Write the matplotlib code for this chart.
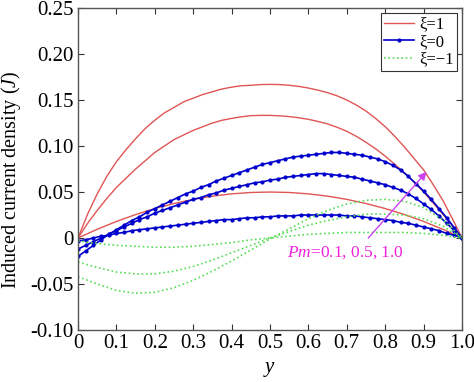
import matplotlib
matplotlib.use("Agg")
import matplotlib.pyplot as plt

plt.rcParams['font.family'] = ['Liberation Serif', 'DejaVu Serif']
plt.rcParams['mathtext.fontset'] = 'custom'
plt.rcParams['mathtext.it'] = 'Liberation Serif:italic'
plt.rcParams['mathtext.rm'] = 'Liberation Serif'

# x grids
y_coarse = [0.00, 0.05, 0.10, 0.15, 0.20, 0.25, 0.30, 0.35, 0.40, 0.45, 0.50,
            0.55, 0.60, 0.65, 0.70, 0.75, 0.80, 0.85, 0.90, 0.95, 1.00]
y_mid = [round(0.025 * i, 3) for i in range(41)]
y_fine = [round(0.02 * i, 2) for i in range(51)]

# xi = 1 (red, solid)
red_high = [0.000, 0.026, 0.048, 0.067, 0.083, 0.096, 0.108, 0.119, 0.128, 0.136,
            0.142, 0.148, 0.152, 0.156, 0.159, 0.162, 0.164, 0.1655, 0.166, 0.1668,
            0.167, 0.1668, 0.166, 0.1648, 0.163, 0.1607, 0.158, 0.1545, 0.150, 0.1445,
            0.138, 0.130, 0.121, 0.1105, 0.099, 0.0865, 0.074, 0.058, 0.041, 0.021, 0.000]
red_mid = [0.000, 0.016, 0.030, 0.043, 0.055, 0.065, 0.075, 0.084, 0.093, 0.100,
           0.107, 0.112, 0.117, 0.121, 0.125, 0.128, 0.130, 0.1317, 0.133, 0.1333,
           0.1333, 0.1328, 0.132, 0.1307, 0.129, 0.1267, 0.124, 0.1203, 0.116, 0.1105,
           0.104, 0.097, 0.089, 0.080, 0.071, 0.061, 0.050, 0.038, 0.026, 0.013, 0.000]
red_low = [0.000, 0.0095, 0.018, 0.0255, 0.032, 0.0375, 0.042, 0.0455, 0.048, 0.0495, 0.050,
           0.0495, 0.048, 0.0455, 0.042, 0.0375, 0.032, 0.0255, 0.018, 0.0095, 0.000]

# xi = 0 (blue, dots)
blue_high = [-0.020, -0.014, -0.008, -0.002, 0.004, 0.009, 0.014, 0.019, 0.023, 0.028,
             0.032, 0.036, 0.040, 0.044, 0.048, 0.051, 0.055, 0.058, 0.062, 0.065,
             0.068, 0.071, 0.074, 0.077, 0.080, 0.082, 0.084, 0.086, 0.088, 0.089,
             0.090, 0.091, 0.092, 0.093, 0.093, 0.092, 0.091, 0.090, 0.088, 0.086,
             0.083, 0.079, 0.074, 0.067, 0.059, 0.051, 0.042, 0.032, 0.022, 0.011, 0.000]
blue_mid = [-0.012, -0.008, -0.004, 0.000, 0.004, 0.008, 0.012, 0.016, 0.020, 0.023,
            0.027, 0.030, 0.033, 0.036, 0.039, 0.042, 0.044, 0.047, 0.049, 0.052,
            0.054, 0.056, 0.058, 0.060, 0.061, 0.063, 0.064, 0.066, 0.067, 0.068,
            0.069, 0.070, 0.070, 0.069, 0.068, 0.067, 0.066, 0.064, 0.062, 0.060,
            0.058, 0.055, 0.052, 0.048, 0.043, 0.037, 0.031, 0.024, 0.016, 0.008, 0.000]
blue_low = [-0.003, -0.002, 0.000, 0.002, 0.003, 0.005, 0.006, 0.008, 0.009, 0.010,
            0.011, 0.012, 0.013, 0.014, 0.015, 0.016, 0.017, 0.018, 0.019, 0.020,
            0.020, 0.021, 0.022, 0.022, 0.023, 0.023, 0.024, 0.024, 0.024, 0.025,
            0.025, 0.025, 0.025, 0.025, 0.025, 0.024, 0.024, 0.023, 0.022, 0.021,
            0.020, 0.019, 0.017, 0.016, 0.014, 0.012, 0.010, 0.008, 0.005, 0.003, 0.000]

# xi = -1 (green, dotted)
green_high = [-0.042, -0.050, -0.057, -0.060, -0.059, -0.054, -0.046, -0.036, -0.025, -0.013, -0.001,
              0.010, 0.021, 0.030, 0.037, 0.041, 0.042, 0.040, 0.033, 0.020, 0.000]
green_mid = [-0.026, -0.032, -0.037, -0.039, -0.039, -0.036, -0.031, -0.024, -0.016, -0.008, 0.000,
             0.007, 0.014, 0.019, 0.023, 0.026, 0.026, 0.025, 0.021, 0.013, 0.000]
green_low = [-0.003, -0.006, -0.008, -0.009, -0.010, -0.010, -0.009, -0.007, -0.005, -0.002, 0.000,
             0.002, 0.004, 0.005, 0.006, 0.006, 0.006, 0.006, 0.005, 0.003, 0.000]

xticks = [0, 0.1, 0.2, 0.3, 0.4, 0.5, 0.6, 0.7, 0.8, 0.9, 1.0]
xticklabels = ['0', '0.1', '0.2', '0.3', '0.4', '0.5', '0.6', '0.7', '0.8', '0.9', '1.0']
yticks = [-0.10, -0.05, 0, 0.05, 0.10, 0.15, 0.20, 0.25]
yticklabels = ['-0.10', '-0.05', '0', '0.05', '0.10', '0.15', '0.20', '0.25']

fig = plt.figure(figsize=(4.74, 3.82), dpi=100)
ax = fig.add_axes([0.1646, 0.1361, 0.8101, 0.8429])

red_c = '#e05555'
blue_c = '#0000cc'
green_c = '#55dd55'

ax.plot(y_mid, red_high, color=red_c, lw=1.0, label='ξ=1')
ax.plot(y_mid, red_mid, color=red_c, lw=1.0)
ax.plot(y_coarse, red_low, color=red_c, lw=1.0)
for i, s in enumerate([blue_high, blue_mid, blue_low]):
    ax.plot(y_fine, s, color=blue_c, lw=1.2, marker='.', ms=4, label='ξ=0' if i == 0 else None)
for i, s in enumerate([green_high, green_mid, green_low]):
    ax.plot(y_coarse, s, color=green_c, lw=1.2, ls=(0, (1, 1.6)), label='ξ=−1' if i == 0 else None)

ax.annotate('', xy=(0.908, 0.072), xytext=(0.756, 0.0),
            arrowprops=dict(arrowstyle='-|>', color='#cc44ee', lw=1.0,
                            mutation_scale=12, shrinkA=0, shrinkB=0))
ax.text(0.545, -0.0155, r'$Pm$=0.1, 0.5, 1.0', color='#ee22dd', fontsize=12.5,
        va='center', ha='left')

ax.set_xlim(0, 1.0)
ax.set_ylim(-0.10, 0.25)
ax.set_xticks(xticks)
ax.set_xticklabels(xticklabels)
ax.set_yticks(yticks)
ax.set_yticklabels(yticklabels)
ax.tick_params(direction='in', top=True, right=True, labelsize=15, length=4,
               width=0.8, colors='#333333', labelcolor='black', pad=3)
for sp in ax.spines.values():
    sp.set_color('#555555')
    sp.set_linewidth(1.0)

ax.set_xlabel(r'$y$', fontsize=15, labelpad=5)
ax.set_ylabel(r'Induced current density ($J$)', fontsize=14.5)
ax.yaxis.set_label_coords(-0.142, 0.466)

leg = ax.legend(loc='upper right', fontsize=12, handlelength=1.8, handletextpad=0.3,
                labelspacing=0.1, borderpad=0.2, borderaxespad=0.3, fancybox=False,
                framealpha=1, edgecolor='#333333')
leg.get_frame().set_linewidth(0.8)

fig.savefig('out.png', dpi=100)
